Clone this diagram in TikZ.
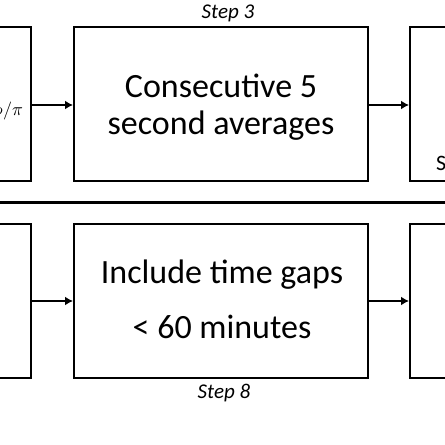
\documentclass[tikz,border=0pt]{standalone}
\usepackage{fontspec}
\setmainfont{Carlito}
\usepackage{unicode-math}
\usetikzlibrary{arrows.meta}
\tikzset{
  stepbox/.style={draw=black, line width=2pt, rectangle, minimum height=154pt, inner sep=0pt},
  flowarrow/.style={line width=2.6pt, -{Latex[length=8pt,width=9pt]}},
  steplabel/.style={font=\fontsize{21}{23}\selectfont\itshape, inner sep=0pt},
  boxtext/.style={font=\fontsize{34}{37}\selectfont, align=center, inner sep=0pt}
}
\begin{document}
\begin{tikzpicture}[x=1pt,y=1pt]
\useasboundingbox (0,0) rectangle (445,445);
\clip (0,0) rectangle (445,445);
% top row (y = 445 - pixel row)
\node[stepbox, minimum width=230pt] (tl) at (-84,341) {};
\node[anchor=east, inner sep=0pt, font=\fontsize{18}{20}\selectfont] (tltxt) at (23,334) {$\phi/\pi$};
\node[stepbox, minimum width=294pt] (tm) at (221,341) {};
\node[boxtext] (tmtxt) at (221,338) {Consecutive 5\\second averages};
\node[steplabel] (s3) at (228,432) {Step 3};
\node[stepbox, minimum width=290pt] (tr) at (555,341) {};
\node[anchor=base west, inner sep=0pt, font=\fontsize{22}{24}\selectfont] (trtxt) at (436,274) {S};
\draw[flowarrow] (tl.east |- 0,340) -- (tm.west |- 0,340);
\draw[flowarrow] (tm.east |- 0,340) -- (tr.west |- 0,340);
% separator
\coordinate (sepL) at (0,242);
\coordinate (sepR) at (445,242);
\draw[line width=3pt] (sepL) -- (sepR);
% bottom row
\node[stepbox, minimum width=230pt] (bl) at (-84,144) {};
\node[stepbox, minimum width=294pt] (bm) at (221,144) {};
\node[boxtext] (bm1) at (222,170) {Include time gaps};
\node[boxtext] (bm2) at (222,118) {< 60 minutes};
\node[steplabel] (s8) at (224,52) {Step 8};
\node[stepbox, minimum width=290pt] (br) at (555,144) {};
\draw[flowarrow] (bl.east |- 0,144) -- (bm.west |- 0,144);
\draw[flowarrow] (bm.east |- 0,144) -- (br.west |- 0,144);
\end{tikzpicture}
\end{document}
